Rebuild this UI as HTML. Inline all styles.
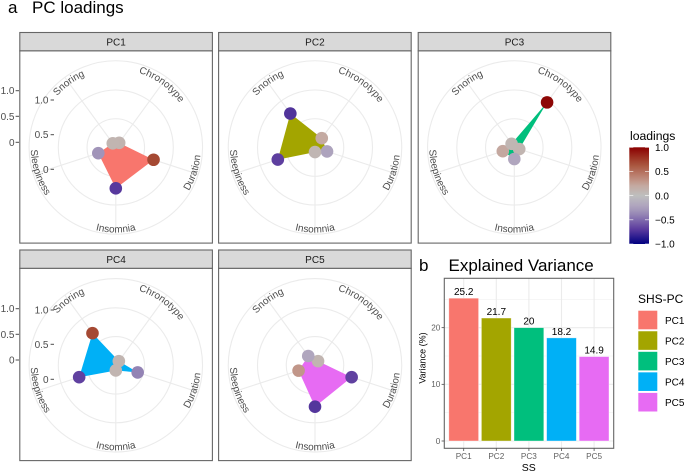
<!DOCTYPE html>
<html lang="en">
<head>
<meta charset="utf-8">
<title>PC loadings and explained variance</title>
<style>
html,body{margin:0;padding:0;background:#fff;}
svg{display:block;font-family:"Liberation Sans",Arial,sans-serif;}
</style>
</head>
<body>
<svg id="chart" xmlns="http://www.w3.org/2000/svg" width="685" height="472" viewBox="0 0 685 472"></svg>
<script>
const axisLabels = ["Chronotype", "Duration", "Insomnia", "Sleepiness", "Snoring"];
const pcNames = ["PC1", "PC2", "PC3", "PC4", "PC5"];
const pc1Loadings = [0.1, 0.69, -0.71, -0.32, 0.09];
const pc2Loadings = [0.2, -0.22, 0.08, -0.68, -0.73];
const pc3Loadings = [0.97, 0.09, -0.2, 0.21, 0.08];
const pc4Loadings = [0.09, -0.4, 0.09, -0.67, 0.69];
const pc5Loadings = [0.09, -0.67, -0.72, 0.3, -0.2];
const varianceValues = [25.2, 21.7, 20, 18.2, 14.9];
const varianceLabels = ["25.2", "21.7", "20", "18.2", "14.9"];
const varianceTicks = [0, 10, 20];
const varianceMinorTicks = [5, 15, 25];
const radialGrid = [0.5, 1.0, 1.5];
const colorbarTicks = [1, 0.5, 0, -0.5, -1];
const colorbarLabels = ["1.0", "0.5", "0.0", "\u22120.5", "\u22121.0"];

const allLoadings = [pc1Loadings, pc2Loadings, pc3Loadings, pc4Loadings, pc5Loadings];
const pcColors = ["#F8766D", "#A3A500", "#00BF7D", "#00B0F6", "#E76BF3"];
const NS = "http://www.w3.org/2000/svg";
const root = document.getElementById("chart");

function mk(tag, attrs, parent, txt) {
  const el = document.createElementNS(NS, tag);
  for (const k in attrs) el.setAttribute(k, attrs[k]);
  if (txt !== undefined) el.textContent = txt;
  (parent || root).appendChild(el);
  return el;
}

const RAD_UNIT = 57.5;
function radius(v) { return Math.abs(v) * RAD_UNIT; }
function polar(cx, cy, r, deg) {
  const a = deg * Math.PI / 180;
  return [cx + r * Math.sin(a), cy - r * Math.cos(a)];
}
const colorStops = [
  [-1, [0, 0, 128]], [-0.7, [90, 58, 158]], [-0.35, [157, 143, 184]], [-0.2, [176, 166, 190]],
  [0, [190, 190, 190]], [0.2, [196, 170, 162]], [0.35, [192, 140, 125]], [0.65, [168, 82, 58]], [1, [139, 0, 0]]
];
function loadingColor(v) {
  const t = Math.max(-1, Math.min(1, v));
  for (let i = 1; i < colorStops.length; i++) {
    if (t <= colorStops[i][0]) {
      const a = colorStops[i - 1], b = colorStops[i];
      const f = (t - a[0]) / (b[0] - a[0]);
      const c = a[1].map((x, j) => Math.round(x + (b[1][j] - x) * f));
      return "rgb(" + c.join(",") + ")";
    }
  }
  return "rgb(139,0,0)";
}

const defs = mk("defs", {});

/* Titles */
const titleA = mk("text", {x: 8, y: 13, "font-size": 17, fill: "#000"}, root, "a");


const titleMain = mk("text", {x: 32, y: 13, "font-size": 17, fill: "#000"}, root, "PC loadings");


const titleB = mk("text", {x: 419, y: 271, "font-size": 17, fill: "#000"}, root, "b");


const titleVar = mk("text", {x: 448.5, y: 271, "font-size": 17, fill: "#000"}, root, "Explained Variance");



/* Radar panels */
const panelBoxes = [
  {x: 19.8, y: 32.5, cx: 115.8, cy: 147.5},
  {x: 218.6, y: 32.5, cx: 315, cy: 147.5},
  {x: 418.2, y: 32.5, cx: 514.3, cy: 147.5},
  {x: 19.8, y: 250, cx: 115.8, cy: 365.3},
  {x: 218.6, y: 250, cx: 315, cy: 365.3}
];
const PANEL_W = 192.6, STRIP_H = 18.4, BODY_H = 192.2;

pcNames.forEach((name, p) => {
  const box = panelBoxes[p];
  const vals = allLoadings[p];
  const g = mk("g", {});
  
  

  const strip = mk("rect", {x: box.x, y: box.y, width: PANEL_W, height: STRIP_H, fill: "#d9d9d9", stroke: "#666", "stroke-width": 1.1}, g);
  
  
  const stripText = mk("text", {x: box.x + PANEL_W / 2, y: box.y + 13, "font-size": 10, fill: "#1a1a1a", "text-anchor": "middle"}, g, name);
  
  

  const bodyY = box.y + STRIP_H;
  mk("rect", {x: box.x, y: bodyY, width: PANEL_W, height: BODY_H, fill: "#fff"}, g);

  radialGrid.forEach(v => {
    const c = mk("circle", {cx: box.cx, cy: box.cy, r: radius(v) - (v === 1.5 ? -0.5 : 0), fill: "none", stroke: "#ebebeb", "stroke-width": 1.1}, g);
    
    
  });

  const angles = axisLabels.map((_, i) => 36 + 72 * i);
  angles.forEach(a => {
    const e = polar(box.cx, box.cy, radius(1.5) + 0.5, a);
    const s = mk("line", {x1: box.cx, y1: box.cy, x2: e[0], y2: e[1], stroke: "#ebebeb", "stroke-width": 1.1}, g);
    
    
  });

  const poly = mk("polygon", {
    points: vals.map((v, i) => polar(box.cx, box.cy, radius(v), angles[i]).map(n => n.toFixed(2)).join(",")).join(" "),
    fill: pcColors[p]
  }, g);
  
  

  vals.forEach((v, i) => {
    const pt = polar(box.cx, box.cy, radius(v), angles[i]);
    const c = mk("circle", {cx: pt[0], cy: pt[1], r: 6.3, fill: loadingColor(v)}, g);
    
    
  });

  axisLabels.forEach((label, i) => {
    const a = angles[i];
    const bottom = a > 90 && a < 270;
    const r = bottom ? 85 : 78;
    const p1 = polar(box.cx, box.cy, r, bottom ? a + 55 : a - 55);
    const p2 = polar(box.cx, box.cy, r, bottom ? a - 55 : a + 55);
    const id = "arc-" + p + "-" + i;
    mk("path", {id: id, d: "M" + p1[0].toFixed(2) + " " + p1[1].toFixed(2) + " A" + r + " " + r + " 0 0 " + (bottom ? 0 : 1) + " " + p2[0].toFixed(2) + " " + p2[1].toFixed(2), fill: "none"}, defs);
    const t = mk("text", {"font-size": 10, fill: "#4d4d4d", "text-anchor": "middle"}, g);
    
    
    mk("textPath", {href: "#" + id, startOffset: "50%"}, t, label);
  });

  mk("rect", {x: box.x, y: bodyY, width: PANEL_W, height: BODY_H, fill: "none", stroke: "#666", "stroke-width": 1.1}, g);
});

/* Stray left ticks, drawn above the panels */
function leftAxis(name, labelEnd, tickX, labels, ys) {
  const g = mk("g", {});
  
  
  labels.forEach((l, i) => {
    mk("text", {x: labelEnd, y: ys[i] + 3.5, "font-size": 10, fill: "#4d4d4d", "text-anchor": "end"}, g, l);
    mk("line", {x1: tickX, x2: tickX + 3.4, y1: ys[i], y2: ys[i], stroke: "#4d4d4d", "stroke-width": 1}, g);
  });
}
const radialLabels = ["1.0", "0.5", "0"];
leftAxis("radial-axis-outer-row1", 14.5, 15.6, radialLabels, [90.7, 116.3, 142.3]);
leftAxis("radial-axis-inner-row1", 48.5, 50.6, radialLabels, [100, 134.7, 169.3]);
leftAxis("radial-axis-outer-row2", 14.5, 15.6, radialLabels, [308.7, 334.3, 360]);
leftAxis("radial-axis-inner-row2", 48.5, 50.6, radialLabels, [310, 344.3, 379.3]);

/* Colour bar legend */
const cbG = mk("g", {});


const grad = mk("linearGradient", {id: "cbGrad", x1: 0, y1: 1, x2: 0, y2: 0}, defs);
for (let i = 0; i <= 20; i++) {
  const v = -1 + i / 10;
  mk("stop", {offset: (i / 20).toFixed(2), "stop-color": loadingColor(v)}, grad);
}
const cbTop = 147.3, cbBottom = 244, cbX = 629.3, cbW = 19.7;
function cbY(v) { return cbBottom - (v + 1) / 2 * (cbBottom - cbTop); }
mk("text", {x: 630, y: 140, "font-size": 12.2, fill: "#000"}, cbG, "loadings");
mk("rect", {x: cbX, y: cbTop, width: cbW, height: cbBottom - cbTop, fill: "url(#cbGrad)"}, cbG);
colorbarTicks.forEach((v, i) => {
  const y = cbY(v);
  mk("line", {x1: cbX, x2: cbX + 4, y1: y, y2: y, stroke: "#fff", "stroke-width": 0.6}, cbG);
  mk("line", {x1: cbX + cbW - 4, x2: cbX + cbW, y1: y, y2: y, stroke: "#fff", "stroke-width": 0.6}, cbG);
  mk("text", {x: 655, y: y + 3.6, "font-size": 10, fill: "#000"}, cbG, colorbarLabels[i]);
});

/* Bar chart */
const barG = mk("g", {});


const bx0 = 444.3, bx1 = 613.7, by0 = 278.3, by1 = 448.3;
function yScale(v) { return 441 - v * 5.667; }
function xScale(i) { return 463.7 + i * 32.6; }
mk("rect", {x: bx0, y: by0, width: bx1 - bx0, height: by1 - by0, fill: "#fff"}, barG);
varianceMinorTicks.forEach(v => {
  mk("line", {x1: bx0, x2: bx1, y1: yScale(v), y2: yScale(v), stroke: "#f0f0f0", "stroke-width": 0.6}, barG);
});
varianceTicks.forEach(v => {
  mk("line", {x1: bx0, x2: bx1, y1: yScale(v), y2: yScale(v), stroke: "#ebebeb", "stroke-width": 1.1}, barG);
});
pcNames.forEach((n, i) => {
  mk("line", {x1: xScale(i), x2: xScale(i), y1: by0, y2: by1, stroke: "#ebebeb", "stroke-width": 1.1}, barG);
});
varianceValues.forEach((v, i) => {
  const bw = 29.8;
  const r = mk("rect", {x: xScale(i) - bw / 2, y: yScale(v), width: bw, height: yScale(0) - yScale(v), fill: pcColors[i], stroke: "#fff", "stroke-opacity": 0.55, "stroke-width": 0.7}, barG);
  
  
  const t = mk("text", {x: xScale(i), y: yScale(v) - 3, "font-size": 10, fill: "#000", "text-anchor": "middle"}, barG, varianceLabels[i]);
  
  
});
mk("rect", {x: bx0, y: by0, width: bx1 - bx0, height: by1 - by0, fill: "none", stroke: "#666", "stroke-width": 1.1}, barG);
varianceTicks.forEach(v => {
  mk("line", {x1: bx0 - 2.7, x2: bx0, y1: yScale(v), y2: yScale(v), stroke: "#4d4d4d", "stroke-width": 0.8}, barG);
  const t = mk("text", {x: bx0 - 4, y: yScale(v) + 2.9, "font-size": 8.2, fill: "#5f5f5f", "text-anchor": "end"}, barG, String(v));
  
  
});
pcNames.forEach((n, i) => {
  mk("line", {x1: xScale(i), x2: xScale(i), y1: by1, y2: by1 + 2.7, stroke: "#4d4d4d", "stroke-width": 0.8}, barG);
  const t = mk("text", {x: xScale(i), y: by1 + 10.5, "font-size": 8.2, fill: "#5f5f5f", "text-anchor": "middle"}, barG, n);
  
  
});
const xTitle = mk("text", {x: 528.7, y: 471, "font-size": 10.5, fill: "#000", "text-anchor": "middle"}, barG, "SS");


const yTitle = mk("text", {x: 0, y: 0, "font-size": 9, fill: "#000", "text-anchor": "middle", transform: "translate(425.5 358) rotate(-90)"}, barG, "Variance (%)");



/* SHS-PC legend */
const legG = mk("g", {});


mk("text", {x: 638, y: 303.2, "font-size": 12, fill: "#000"}, legG, "SHS-PC");
pcNames.forEach((n, i) => {
  const y = 310.7 + i * 20.55;
  const k = mk("rect", {x: 638.3, y: y, width: 19, height: 18.6, fill: pcColors[i]}, legG);
  
  
  const t = mk("text", {x: 665, y: y + 13.3, "font-size": 10, fill: "#000"}, legG, n);
  
  
});
</script>
</body>
</html>
